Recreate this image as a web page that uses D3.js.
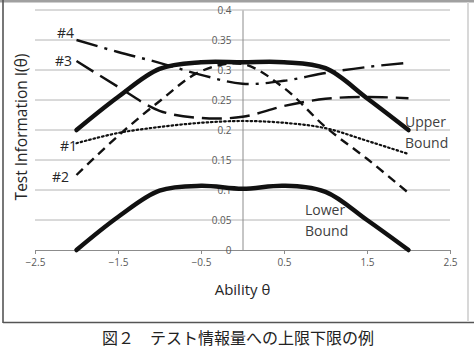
<!DOCTYPE html>
<html>
<head>
<meta charset="utf-8">
<script src="https://cdn.jsdelivr.net/npm/d3@7"></script>
<style>
  html, body { margin: 0; padding: 0; background: #fff; }
  svg { display: block; }
</style>
</head>
<body>
<svg id="chart" width="474" height="348"></svg>
<script>
// Ability grid shared by every curve
const theta = [-2, -1.5, -1, -0.5, 0, 0.5, 1, 1.5, 2];

// Test information per item set and the two bounds
const upperBound = [0.2, 0.255, 0.302, 0.313, 0.313, 0.313, 0.303, 0.253, 0.2];
const lowerBound = [0, 0.055, 0.099, 0.107, 0.102, 0.107, 0.097, 0.05, 0];
const set1 = [0.178, 0.195, 0.205, 0.212, 0.215, 0.212, 0.203, 0.182, 0.16];
const set2 = [0.125, 0.19, 0.248, 0.298, 0.31, 0.27, 0.205, 0.152, 0.095];
const set3 = [0.315, 0.272, 0.232, 0.22, 0.222, 0.24, 0.252, 0.255, 0.253];
const set4 = [0.35, 0.33, 0.312, 0.292, 0.277, 0.282, 0.295, 0.305, 0.312];

// Axis ticks
const xTicks = [-2.5, -1.5, -0.5, 0.5, 1.5, 2.5];
const yTicks = [0, 0.05, 0.1, 0.15, 0.2, 0.25, 0.3, 0.35, 0.4];

const svg = d3.select("#chart");
const x = d3.scaleLinear().domain([-2.5, 2.5]).range([35, 450]);
const y = d3.scaleLinear().domain([0, 0.4]).range([250, 10]);

const latin = "'Open Sans', 'DejaVu Sans', sans-serif";

// Outer frame
svg.append("line").attr("x1", 0).attr("x2", 474).attr("y1", 1).attr("y2", 1)
  .attr("stroke", "#a0a0a0").attr("stroke-width", 3);
svg.append("line").attr("x1", 3).attr("x2", 3).attr("y1", 0).attr("y2", 323)
  .attr("stroke", "#555").attr("stroke-width", 1.6);
svg.append("line").attr("x1", 3).attr("x2", 474).attr("y1", 322.5).attr("y2", 322.5)
  .attr("stroke", "#555").attr("stroke-width", 1.6);
svg.append("line").attr("x1", 468).attr("x2", 468).attr("y1", 2).attr("y2", 322)
  .attr("stroke", "#d8d8d8").attr("stroke-width", 2);

// Horizontal gridlines
svg.append("g").selectAll("line").data(yTicks.slice(1)).join("line")
  .attr("x1", x(-2.5)).attr("x2", x(2.5))
  .attr("y1", d => y(d)).attr("y2", d => y(d))
  .attr("stroke", "#b4b4b4").attr("stroke-width", 1);

// Horizontal axis with ticks hanging below
const xAxis = svg.append("g").attr("transform", `translate(0,${y(0)})`)
  .call(d3.axisBottom(x).tickValues(xTicks).tickSize(4).tickSizeOuter(0)
    .tickFormat(d3.format("")));
xAxis.select(".domain").attr("stroke", "#8c8c8c");
xAxis.selectAll(".tick line").attr("stroke", "#8c8c8c");
xAxis.selectAll(".tick text")
  .attr("y", 12).attr("dy", "0.35em")
  .attr("fill", "#595959").style("font-family", latin).style("font-size", "10px");

// Vertical axis crossing at theta = 0, labels on its left
const yAxis = svg.append("g").attr("transform", `translate(${x(0)},0)`)
  .call(d3.axisLeft(y).tickValues(yTicks).tickSize(0).tickPadding(11)
    .tickFormat(d3.format("")));
yAxis.select(".domain").attr("stroke", "#8c8c8c");
yAxis.selectAll(".tick text")
  .attr("fill", "#595959").style("font-family", latin).style("font-size", "10px");

// Curves
const line = d3.line().x((d, i) => x(theta[i])).y(d => y(d))
  .curve(d3.curveCatmullRom.alpha(0.5));

const series = [
  { values: set1, width: 2.2, dash: "1.6,2.8", cap: "round" },
  { values: set2, width: 2.4, dash: "9,6", cap: "butt" },
  { values: set3, width: 2.4, dash: "20,8", cap: "butt" },
  { values: set4, width: 2.4, dash: "22,7,3,7", cap: "butt" },
  { values: upperBound, width: 4.5, dash: null, cap: "round" },
  { values: lowerBound, width: 4.5, dash: null, cap: "round" }
];

svg.append("g").selectAll("path").data(series).join("path")
  .attr("d", d => line(d.values))
  .attr("fill", "none")
  .attr("stroke", "#111")
  .attr("stroke-width", d => d.width)
  .attr("stroke-dasharray", d => d.dash)
  .attr("stroke-linecap", d => d.cap);

// Series labels
const labels = [
  { text: "#4", tx: 57, ty: 38 },
  { text: "#3", tx: 55, ty: 66 },
  { text: "#1", tx: 60, ty: 151 },
  { text: "#2", tx: 52, ty: 182 }
];
svg.append("g").selectAll("text").data(labels).join("text")
  .attr("x", d => d.tx).attr("y", d => d.ty)
  .attr("fill", "#262626").style("font-family", latin).style("font-size", "14px")
  .text(d => d.text);

// Bound captions
const boundLabels = [
  { lines: ["Upper", "Bound"], tx: 405, ty: 127 },
  { lines: ["Lower", "Bound"], tx: 305, ty: 215 }
];
boundLabels.forEach(b => {
  const t = svg.append("text").attr("x", b.tx).attr("y", b.ty)
    .attr("fill", "#3f3f3f").style("font-family", latin).style("font-size", "14px");
  b.lines.forEach((s, i) => t.append("tspan").attr("x", b.tx).attr("dy", i ? 21 : 0).text(s));
});

// Axis titles
svg.append("text").attr("x", x(0)).attr("y", 295).attr("text-anchor", "middle")
  .attr("fill", "#262626").style("font-family", latin).style("font-size", "15px")
  .text("Ability θ");
svg.append("text").attr("transform", "translate(27,127) rotate(-90)")
  .attr("text-anchor", "middle")
  .attr("fill", "#262626").style("font-family", latin).style("font-size", "15.5px")
  .text("Test Information I(θ)");

// Figure caption
svg.append("text").attr("x", 238).attr("y", 344).attr("text-anchor", "middle")
  .attr("fill", "#222").style("font-family", "'Noto Sans CJK JP', sans-serif")
  .style("font-size", "16px")
  .text("図２　テスト情報量への上限下限の例");
</script>
</body>
</html>
